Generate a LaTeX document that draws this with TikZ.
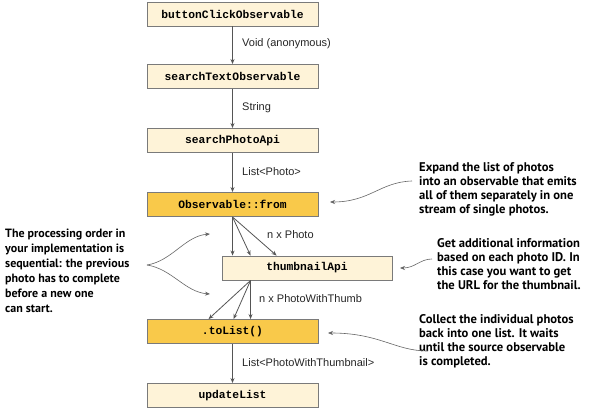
\documentclass[tikz,border=0pt]{standalone}
\usepackage{fontspec}
\setmainfont{Liberation Sans}
\newfontfamily\boxfont{Liberation Mono}
\newfontfamily\notefont{PT Sans}
\usetikzlibrary{arrows.meta,calc}
\definecolor{boxlight}{HTML}{FEF3D8}
\definecolor{boxdark}{HTML}{F9C94A}
\definecolor{boxline}{HTML}{7A7A7A}
\definecolor{arrowc}{HTML}{555555}
\begin{document}
\begin{tikzpicture}[x=1pt,y=-1pt,
 box/.style={draw=boxline, line width=0.9pt, fill=boxlight, minimum width=171pt, minimum height=24pt, inner sep=0pt, font=\boxfont\bfseries\fontsize{11.3}{13}\selectfont},
 darkbox/.style={box, fill=boxdark},
 lbl/.style={anchor=west, inner sep=0pt, font=\fontsize{11}{13}\selectfont, text=black!85},
 flow/.style={draw=arrowc, line width=0.8pt, -{Stealth[length=5pt,width=4pt]}},
 curvy/.style={draw=black!60, line width=0.6pt, -{Stealth[length=5pt,width=4pt]}},
 note/.style={anchor=north west, align=left, inner sep=0pt, font=\notefont\bfseries\fontsize{12.6}{14}\selectfont}]
\useasboundingbox (0,0) rectangle (590,409);
\fill[white] (0,0) rectangle (590,409);

\node[box] (b1) at (232.5,14) {buttonClickObservable};
\node[box] (b2) at (232.5,76.5) {searchTextObservable};
\node[box] (b3) at (232.5,140.5) {searchPhotoApi};
\node[darkbox] (b4) at (232.5,204.5) {Observable::from};
\node[box, minimum width=170pt] (b5) at (307,268) {thumbnailApi};
\node[darkbox] (b6) at (232.5,331.5) {.toList()};
\node[box] (b7) at (232.5,395.5) {updateList};

\draw[flow] (b1) -- (b2);
\draw[flow] (b2) -- (b3);
\draw[flow] (b3) -- (b4);
\draw[flow] (b6) -- (b7);

\draw[flow] (b4.south) -- ($(b5.north west)+(11,0)$);
\draw[flow] (b4.south) -- ($(b5.north west)+(29,0)$);
\draw[flow] (b4.south) -- ($(b5.north west)+(55,0)$);

\coordinate (t0) at ($(b5.south west)+(29,0)$);
\draw[flow] (t0) -- ($(b6.north west)+(104,0)$);
\draw[flow] (t0) -- ($(b6.north west)+(87,0)$);
\draw[flow] (t0) -- ($(b6.north west)+(62,0)$);

\node[lbl] (l1) at (242,44) {Void (anonymous)};
\node[lbl] (l2) at (242,108) {String};
\node[lbl] (l3) at (242,172) {List<Photo>};
\node[lbl] (l4) at (267,235) {n x Photo};
\node[lbl] (l5) at (259,299) {n x PhotoWithThumb};
\node[lbl] (l6) at (242,363) {List<PhotoWithThumbnail>};

\node[note, font=\notefont\bfseries\fontsize{12}{15}\selectfont] (nl) at (5,229) {The processing order in\\your implementation is\\sequential: the previous\\photo has to complete\\before a new one\\can start.};
\node[note] (n1) at (419,162) {Expand the list of photos\\into an observable that emits\\all of them separately in one\\stream of single photos.};
\node[note] (n2) at (437,238.5) {Get additional information\\based on each photo ID. In\\this case you want to get\\the URL for the thumbnail.};
\node[note] (n3) at (419,314) {Collect the individual photos\\back into one list. It waits\\until the source observable\\is completed.};

\coordinate (lb) at (147,265);
\coordinate (lt1) at (210,234);
\coordinate (lt2) at (210,294);
\draw[curvy] (lb) .. controls (172,261) and (185,236) .. (lt1);
\draw[curvy] (lb) .. controls (172,269) and (185,292) .. (lt2);

\coordinate (r1s) at (412,181);
\coordinate (r1t) at (330,202);
\draw[curvy] (r1s) .. controls (380,182) and (370,202) .. (r1t);
\coordinate (r2s) at (432,259);
\coordinate (r2t) at (400,268);
\draw[curvy] (r2s) .. controls (420,259) and (415,268) .. (r2t);
\coordinate (r3s) at (428,351);
\coordinate (r3t) at (328,333);
\draw[curvy] (r3s) .. controls (395,351) and (380,333) .. (r3t);
\end{tikzpicture}
\end{document}
